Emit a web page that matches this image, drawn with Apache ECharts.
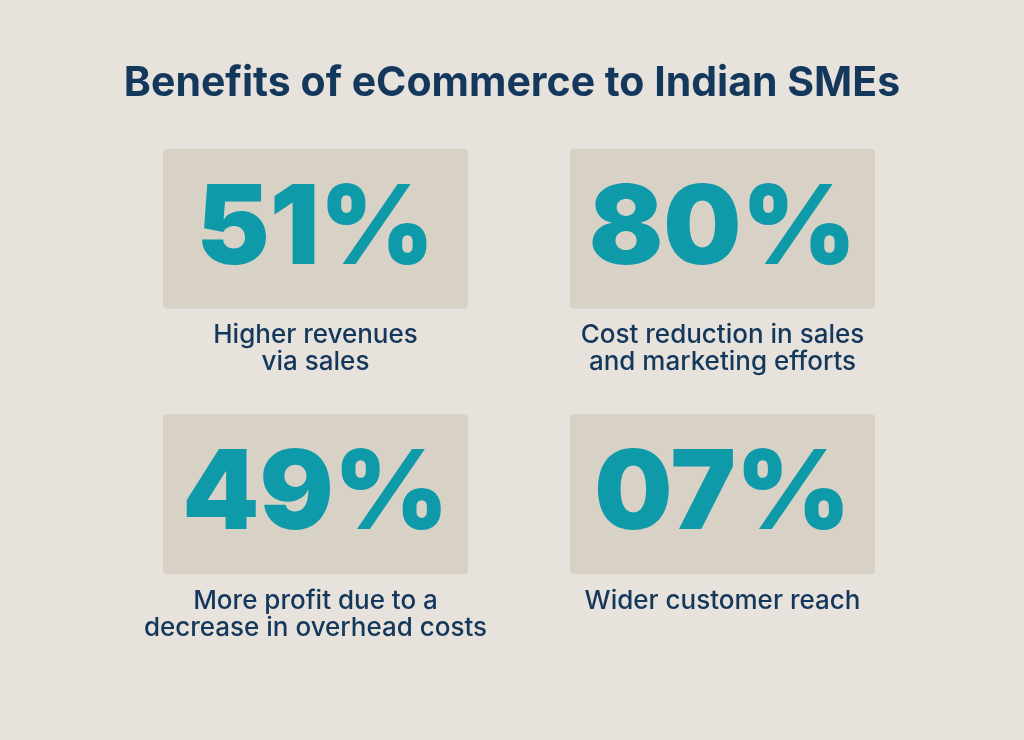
<!DOCTYPE html>
<html>
<head>
<meta charset="utf-8">
<title>Benefits of eCommerce to Indian SMEs</title>
<script src="https://cdn.jsdelivr.net/npm/echarts@6/dist/echarts.min.js"></script>
<style>
  html, body { margin: 0; padding: 0; background: #e7e2db; }
  #main { width: 1024px; height: 740px; }
</style>
</head>
<body>
<div id="main"></div>
<script>
// data
var columns = ['left', 'right'];
var rows = ['top', 'bottom'];
var values = ['51%', '80%', '49%', '07%'];
var captions = [
  'Higher revenues\nvia sales',
  'Cost reduction in sales\nand marketing efforts',
  'More profit due to a\ndecrease in overhead costs',
  'Wider customer reach'
];
var cells = [[0, 0], [1, 0], [0, 1], [1, 1]];

var seriesData = cells.map(function (c, i) {
  return [c[0], c[1], values[i], captions[i]];
});

var chart = echarts.init(document.getElementById('main'));

chart.setOption({
  backgroundColor: '#e7e2db',
  title: {
    text: 'Benefits of eCommerce to Indian SMEs',
    left: 'center',
    top: 58,
    textStyle: { color: '#14385c', fontSize: 41, fontWeight: 700, fontFamily: 'Inter' }
  },
  grid: { left: 112, right: 98, top: 96, bottom: 113 },
  xAxis: { type: 'category', data: columns, show: false },
  yAxis: { type: 'category', data: rows, inverse: true, show: false },
  series: [{
    type: 'custom',
    data: seriesData,
    renderItem: function (params, api) {
      var p = api.coord([api.value(0), api.value(1)]);
      var w = 305, h = 160;
      return {
        type: 'group',
        children: [
          {
            type: 'rect',
            shape: { x: p[0] - w / 2, y: p[1] - h / 2, width: w, height: h, r: 4 },
            style: { fill: '#d8d2c6' }
          },
          {
            type: 'text',
            style: {
              x: p[0], y: p[1] + 2,
              text: api.value(2),
              align: 'center', verticalAlign: 'middle',
              fill: '#0e9aa9',
              font: '900 110px Inter'
            }
          },
          {
            type: 'text',
            style: {
              x: p[0], y: p[1] + h / 2 + 13,
              text: api.value(3),
              align: 'center', verticalAlign: 'top',
              fill: '#14385c',
              font: '500 26px Inter',
              lineHeight: 27
            }
          }
        ]
      };
    }
  }]
});
</script>
</body>
</html>
